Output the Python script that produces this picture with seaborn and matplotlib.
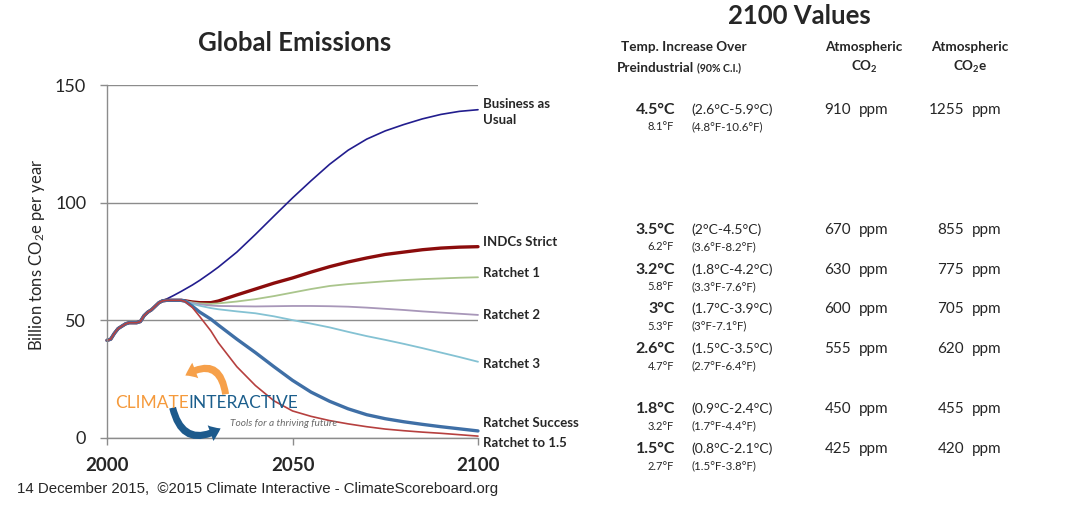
import pandas as pd
import matplotlib
matplotlib.use("Agg")
import matplotlib.pyplot as plt
import seaborn as sns
from matplotlib.patches import FancyArrowPatch

# ---- data ----
hist_years = list(range(2000, 2016))
hist_vals = [41.5, 42.0, 44.5, 46.5, 47.5, 48.5, 49.0, 49.0, 49.0, 49.5,
             52.0, 53.5, 54.5, 56.0, 57.5, 58.3]

future_years = [2016, 2018, 2020, 2021, 2023, 2025, 2028, 2030, 2035, 2040, 2045,
                2050, 2055, 2060, 2065, 2070, 2075, 2080, 2085, 2090, 2095, 2100]

bau = [59.0, 60.6, 62.3, 63.2, 65.0, 67.0, 70.3, 72.6, 79.0, 86.5, 94.3,
       102.0, 109.3, 116.3, 122.3, 127.0, 130.5, 133.2, 135.6, 137.5, 138.8, 139.5]
indcs = [58.5, 58.5, 58.5, 58.3, 57.8, 57.5, 57.5, 58.2, 60.8, 63.3, 65.8,
         68.0, 70.5, 72.8, 74.8, 76.5, 78.0, 79.0, 80.0, 80.7, 81.1, 81.3]
ratchet1 = [58.5, 58.5, 58.5, 58.2, 57.6, 57.2, 57.0, 57.2, 58.0, 59.0, 60.3,
            61.8, 63.3, 64.6, 65.4, 66.0, 66.6, 67.1, 67.5, 67.8, 68.1, 68.3]
ratchet2 = [58.5, 58.5, 58.5, 58.2, 57.4, 56.8, 56.3, 56.1, 56.0, 55.9, 56.0,
            56.1, 56.1, 56.0, 55.8, 55.4, 54.9, 54.4, 53.8, 53.3, 52.8, 52.3]
ratchet3 = [58.5, 58.5, 58.5, 58.0, 57.0, 56.2, 55.2, 54.7, 53.8, 53.0, 51.7,
            50.1, 48.6, 47.0, 45.1, 43.3, 41.7, 40.0, 38.2, 36.3, 34.4, 32.4]
success = [58.5, 58.5, 58.5, 58.2, 56.0, 53.5, 50.5, 48.0, 42.0, 36.3, 30.3,
           24.5, 19.5, 15.6, 12.4, 9.9, 8.2, 6.9, 5.8, 4.8, 3.9, 3.0]
to_15 = [58.5, 58.5, 58.5, 58.0, 55.5, 51.6, 45.5, 40.5, 30.3, 22.3, 15.8,
         11.5, 9.2, 7.4, 6.0, 4.8, 3.8, 3.1, 2.5, 2.0, 1.4, 0.8]

scenarios = ["Business as Usual", "INDCs Strict", "Ratchet 1", "Ratchet 2",
             "Ratchet 3", "Ratchet Success", "Ratchet to 1.5"]
series = [bau, indcs, ratchet1, ratchet2, ratchet3, success, to_15]
labels = ["Business as\nUsual", "INDCs Strict", "Ratchet 1", "Ratchet 2",
          "Ratchet 3", "Ratchet Success", "Ratchet to 1.5"]

temps_c = ["4.5°C", "3.5°C", "3.2°C", "3°C", "2.6°C", "1.8°C", "1.5°C"]
temps_f = ["8.1°F", "6.2°F", "5.8°F", "5.3°F", "4.7°F", "3.2°F", "2.7°F"]
ci_c = ["(2.6°C-5.9°C)", "(2°C-4.5°C)", "(1.8°C-4.2°C)", "(1.7°C-3.9°C)",
        "(1.5°C-3.5°C)", "(0.9°C-2.4°C)", "(0.8°C-2.1°C)"]
ci_f = ["(4.8°F-10.6°F)", "(3.6°F-8.2°F)", "(3.3°F-7.6°F)", "(3°F-7.1°F)",
        "(2.7°F-6.4°F)", "(1.7°F-4.4°F)", "(1.5°F-3.8°F)"]
co2 = [910, 670, 630, 600, 555, 450, 425]
co2e = [1255, 855, 775, 705, 620, 455, 420]

# ---- styles ----
colors = ["#221d8e", "#8b0c0c", "#aac58c", "#a897b9", "#84c2d3", "#3f6fa6", "#b6403f"]
widths = [1.2, 2.4, 1.3, 1.3, 1.3, 2.4, 1.2]
label_y = [112, 242, 273, 315, 364, 423, 443]
row_y = [110, 230, 270, 309, 349, 409, 449]

sns.set_style("white")
plt.rcParams["font.family"] = ["Lato", "DejaVu Sans"]
plt.rcParams["mathtext.default"] = "regular"

W, H = 1070, 513
fig = plt.figure(figsize=(W / 100, H / 100), dpi=100)


def px(x, y):
    return x / W, 1 - y / H


def inch(x, y):
    return x / 100, (H - y) / 100


ax = fig.add_axes([107 / W, 75 / H, 371 / W, 353 / H])

for name, vals, c, lw in zip(scenarios, series, colors, widths):
    df = pd.DataFrame({"Year": hist_years + future_years, "Emissions": hist_vals + vals})
    sns.lineplot(data=df, x="Year", y="Emissions", color=c, linewidth=lw,
                 errorbar=None, ax=ax, clip_on=False)

ax.set_xlim(2000, 2100)
ax.set_ylim(0, 150)
ax.set_xticks([2000, 2050, 2100])
ax.set_yticks([0, 50, 100, 150])
ax.set_xlabel("")
ax.set_ylabel("")
ax.grid(axis="y", color="#8c8c8c", linewidth=1)
ax.set_axisbelow(True)
for s in ["top", "right"]:
    ax.spines[s].set_visible(False)
for s in ["left", "bottom"]:
    ax.spines[s].set_color("#8c8c8c")
    ax.spines[s].set_linewidth(1)
ax.tick_params(axis="both", direction="out", length=5, width=1, color="#8c8c8c",
               left=True, bottom=True)
ax.tick_params(axis="x", labelsize=13.5, pad=9)
ax.tick_params(axis="y", labelsize=13, pad=10)
for lbl in ax.get_xticklabels():
    lbl.set_fontweight("bold")

# titles / axis label
fig.text(*px(295, 43), "Global Emissions", ha="center", va="center",
         fontsize=18.5, fontweight="bold")
fig.text(*px(37, 255), "Billion tons CO$_2$e per year", rotation=90,
         ha="center", va="center", fontsize=12)

for lab, y in zip(labels, label_y):
    fig.text(*px(483, y), lab, ha="left", va="center", fontsize=9.5,
             fontweight="bold", linespacing=1.35)

fig.text(*px(17, 489), "14 December 2015,  \u00a92015 Climate Interactive - ClimateScoreboard.org",
         ha="left", va="center", fontsize=10.8, family=["Liberation Sans", "DejaVu Sans"])

# logo
arrow_style = "simple,head_length=8,head_width=12,tail_width=5"
arrow_orange = FancyArrowPatch(inch(226, 397), inch(183, 377),
                               transform=fig.dpi_scale_trans,
                               connectionstyle="arc3,rad=0.8",
                               arrowstyle=arrow_style,
                               color="#f6a04a", lw=0, zorder=5)
arrow_blue = FancyArrowPatch(inch(172, 405), inch(223, 427),
                             transform=fig.dpi_scale_trans,
                             connectionstyle="arc3,rad=0.7",
                             arrowstyle=arrow_style,
                             color="#1d5a8c", lw=0, zorder=5)
fig.add_artist(arrow_orange)
fig.add_artist(arrow_blue)
t1 = fig.text(*px(115, 403), "CLIMATE", ha="left", va="center", fontsize=12.5,
              color="#f59a3c", zorder=6,
              bbox=dict(facecolor="none", edgecolor="none", pad=0))
ax.annotate("INTERACTIVE", xy=(1, 0.5), xycoords=t1, ha="left", va="center",
            fontsize=12.5, color="#1b5e8c", zorder=6, annotation_clip=False)
fig.text(*px(230, 423), "Tools for a thriving future", ha="left", va="center",
         fontsize=7.3, color="#6b6b6b", style="italic", zorder=6)

# right-hand table
fig.text(*px(799, 16), "2100 Values", ha="center", va="center", fontsize=18.5,
         fontweight="bold")
fig.text(*px(621, 47), "Temp. Increase Over", ha="left", va="center", fontsize=9.7,
         fontweight="bold")
fig.text(*px(617, 68), "Preindustrial", ha="left", va="center", fontsize=9.7,
         fontweight="bold")
fig.text(*px(697, 68), "(90% C.I.)", ha="left", va="center", fontsize=7.6,
         fontweight="bold")
for cx, sub in [(864, "CO$_2$"), (970, "CO$_2$e")]:
    fig.text(*px(cx, 47), "Atmospheric", ha="center", va="center", fontsize=9.7,
             fontweight="bold")
    fig.text(*px(cx, 67), sub, ha="center", va="center", fontsize=9.7,
             fontweight="bold")

for y, tc, tf, cc, cf, a, b in zip(row_y, temps_c, temps_f, ci_c, ci_f, co2, co2e):
    fig.text(*px(675, y), tc, ha="right", va="center", fontsize=11.5, fontweight="bold")
    fig.text(*px(674, y + 17), tf, ha="right", va="center", fontsize=8)
    fig.text(*px(691, y), cc, ha="left", va="center", fontsize=10)
    fig.text(*px(691, y + 17), cf, ha="left", va="center", fontsize=8.3)
    fig.text(*px(851, y), str(a), ha="right", va="center", fontsize=11)
    fig.text(*px(859, y), "ppm", ha="left", va="center", fontsize=11)
    fig.text(*px(964, y), str(b), ha="right", va="center", fontsize=11)
    fig.text(*px(972, y), "ppm", ha="left", va="center", fontsize=11)

fig.savefig("out.png", dpi=100)
